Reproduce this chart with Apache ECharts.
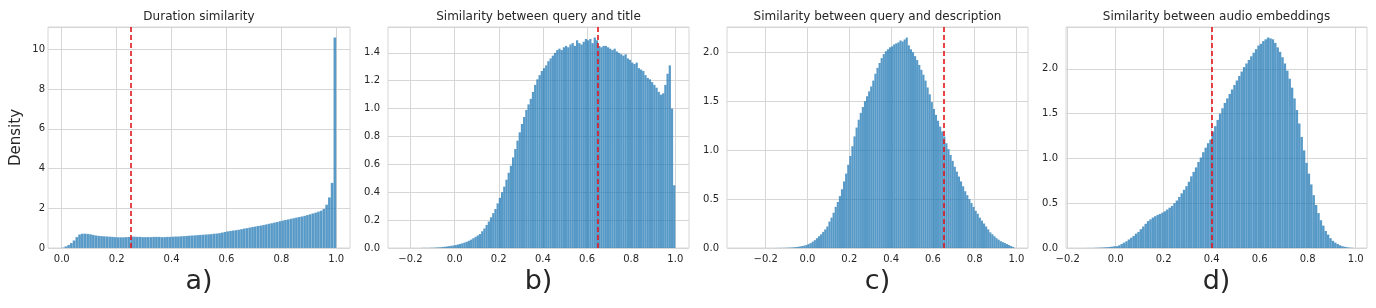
<!DOCTYPE html>
<html>
<head>
<meta charset="utf-8">
<script src="https://cdn.jsdelivr.net/npm/echarts@6/dist/echarts.min.js"></script>
<style>
  html, body { margin: 0; padding: 0; background: #fff; }
  #chart { width: 1376px; height: 308px; }
</style>
</head>
<body>
<div id="chart"></div>
<script>
// every histogram uses bins of the same width, starting at its own edge
const binWidth = 0.01

// a) duration similarity, bins from 0.00 to 1.00
const durationStart = 0
const durationDensity = [
  0.02, 0.08, 0.15, 0.25, 0.38, 0.55, 0.68, 0.72, 0.72, 0.71,
  0.69, 0.66, 0.63, 0.61, 0.60, 0.59, 0.58, 0.57, 0.56, 0.55,
  0.54, 0.54, 0.54, 0.55, 0.56, 0.57, 0.57, 0.56, 0.56, 0.55,
  0.55, 0.55, 0.55, 0.56, 0.56, 0.56, 0.55, 0.55, 0.56, 0.56,
  0.57, 0.58, 0.58, 0.59, 0.60, 0.61, 0.62, 0.63, 0.64, 0.65,
  0.66, 0.67, 0.68, 0.69, 0.70, 0.72, 0.73, 0.75, 0.78, 0.81,
  0.84, 0.86, 0.88, 0.90, 0.92, 0.95, 0.98, 1.00, 1.03, 1.06,
  1.08, 1.11, 1.13, 1.16, 1.19, 1.22, 1.25, 1.28, 1.31, 1.35,
  1.38, 1.41, 1.44, 1.47, 1.50, 1.53, 1.56, 1.59, 1.62, 1.66,
  1.70, 1.74, 1.78, 1.83, 1.88, 1.97, 2.18, 2.55, 3.28, 10.6
]

// b) query vs title, bins from -0.24 to 1.00
const titleStart = -0.24
const titleDensity = [
  0, 0, 0, 0, 0, 0, 0, 0, 0,
  0.001, 0.001, 0.001, 0.001,
  0.002, 0.002, 0.003, 0.004, 0.005, 0.007, 0.009, 0.011, 0.013, 0.016, 0.018,
  0.021, 0.025, 0.029, 0.034, 0.039, 0.045, 0.052, 0.06, 0.07, 0.08,
  0.09, 0.10, 0.12, 0.14, 0.165, 0.19, 0.22, 0.25, 0.28, 0.32,
  0.36, 0.40, 0.44, 0.49, 0.54, 0.59, 0.65, 0.71, 0.77, 0.83,
  0.89, 0.94, 0.99, 1.03, 1.07, 1.12, 1.17, 1.21, 1.24, 1.27,
  1.29, 1.31, 1.34, 1.36, 1.38, 1.40, 1.42, 1.43, 1.42, 1.44,
  1.45, 1.44, 1.46, 1.47, 1.45, 1.49, 1.47, 1.46, 1.48, 1.50,
  1.49, 1.50, 1.47, 1.51, 1.49, 1.45, 1.44, 1.45, 1.45, 1.44,
  1.43, 1.42, 1.43, 1.41, 1.40, 1.39, 1.38, 1.39, 1.36, 1.35,
  1.33, 1.32, 1.33, 1.29, 1.28, 1.27, 1.24, 1.22, 1.21, 1.19,
  1.17, 1.15, 1.12, 1.10, 1.11, 1.17, 1.25, 1.31, 1.00, 0.45
]

// c) query vs description, bins from -0.32 to 0.99
const descStart = -0.32
const descDensity = [
  0, 0, 0, 0, 0, 0, 0, 0, 0, 0, 0, 0, 0, 0, 0, 0, 0,
  0.001, 0.001, 0.001, 0.002, 0.002, 0.003,
  0.004, 0.005, 0.007, 0.009, 0.012, 0.016, 0.02, 0.025, 0.03,
  0.04, 0.05, 0.065, 0.08, 0.10, 0.12, 0.14, 0.165, 0.19, 0.22,
  0.27, 0.31, 0.36, 0.42, 0.47, 0.53, 0.60, 0.68, 0.76, 0.85,
  0.94, 1.04, 1.14, 1.23, 1.31, 1.38, 1.44, 1.50, 1.55, 1.60,
  1.65, 1.71, 1.78, 1.84, 1.89, 1.94, 1.98, 2.01, 2.03, 2.05,
  2.06, 2.08, 2.09, 2.10, 2.12, 2.11, 2.13, 2.15, 2.07, 2.03,
  2.00, 1.96, 1.92, 1.87, 1.82, 1.77, 1.71, 1.64, 1.57, 1.49,
  1.42, 1.36, 1.30, 1.24, 1.19, 1.14, 1.07, 1.01, 0.95, 0.89,
  0.83, 0.78, 0.73, 0.68, 0.63, 0.58, 0.54, 0.50, 0.46, 0.42,
  0.38, 0.35, 0.31, 0.28, 0.25, 0.22, 0.19, 0.16, 0.14, 0.12,
  0.10, 0.085, 0.07, 0.06, 0.05, 0.04, 0.03, 0.02, 0.01
]

// d) audio embeddings, bins from -0.15 to 0.99
const audioStart = -0.15
const audioDensity = [
  0, 0, 0, 0.001, 0.001, 0.001, 0.002,
  0.003, 0.004, 0.005, 0.007, 0.009, 0.012, 0.015, 0.02,
  0.02, 0.03, 0.045, 0.06, 0.075, 0.095, 0.115, 0.135, 0.16, 0.18,
  0.21, 0.24, 0.27, 0.30, 0.32, 0.34, 0.355, 0.37, 0.38, 0.395,
  0.41, 0.43, 0.45, 0.47, 0.50, 0.53, 0.57, 0.61, 0.65, 0.69,
  0.74, 0.80, 0.85, 0.90, 0.96, 1.01, 1.07, 1.12, 1.17, 1.21,
  1.30, 1.36, 1.43, 1.50, 1.56, 1.62, 1.67, 1.72, 1.77, 1.82,
  1.87, 1.92, 1.97, 2.02, 2.06, 2.10, 2.14, 2.18, 2.22, 2.26,
  2.28, 2.31, 2.33, 2.35, 2.34, 2.33, 2.29, 2.24, 2.19, 2.13,
  2.06, 1.98, 1.89, 1.79, 1.67, 1.54, 1.39, 1.24, 1.09, 0.95,
  0.83, 0.71, 0.59, 0.48, 0.39, 0.31, 0.25, 0.19, 0.15, 0.11,
  0.08, 0.06, 0.045, 0.03, 0.02, 0.013, 0.008, 0.004, 0.002
]

const panelTitles = [
  'Duration similarity',
  'Similarity between query and title',
  'Similarity between query and description',
  'Similarity between audio embeddings'
]
const panelLetters = ['a)', 'b)', 'c)', 'd)']
const thresholds = [0.25, 0.65, 0.65, 0.40]
const xTicksDuration = [0, 0.2, 0.4, 0.6, 0.8, 1.0]
const xTicksSimilarity = [-0.2, 0, 0.2, 0.4, 0.6, 0.8, 1.0]
const yIntervals = [2, 0.2, 0.5, 0.5]

const panels = [
  { start: durationStart, values: durationDensity, xTicks: xTicksDuration, yDigits: 0 },
  { start: titleStart, values: titleDensity, xTicks: xTicksSimilarity, yDigits: 1 },
  { start: descStart, values: descDensity, xTicks: xTicksSimilarity, yDigits: 1 },
  { start: audioStart, values: audioDensity, xTicks: xTicksSimilarity, yDigits: 1 }
]

// grid placement (pixels)
const gridLefts = [48, 388, 727, 1066]
const gridWidths = [302, 301, 301, 301]
const gridTop = 27
const gridHeight = 221
const yLabelMargins = [3, 8, 8, 8]

const textColor = '#262626'
const gridColor = '#d6d6d6'
const barColor = 'rgba(31, 119, 180, 0.75)'
const font = 'DejaVu Sans'

function fmt(v, digits) {
  const s = Math.abs(v).toFixed(digits)
  return v < -1e-9 ? '\u2212' + s : s
}

// wide bins (panel a) show thin light seams between bars, the narrow ones look solid
function makeBinRenderer(seams) {
  return function (params, api) {
    const topLeft = api.coord([api.value(0), api.value(2)])
    const bottomRight = api.coord([api.value(1), 0])
    return {
      type: 'rect',
      shape: {
        x: topLeft[0],
        y: topLeft[1],
        width: bottomRight[0] - topLeft[0],
        height: bottomRight[1] - topLeft[1]
      },
      style: seams
        ? { fill: barColor, stroke: 'rgba(255,255,255,0.35)', lineWidth: 0.3 }
        : { fill: barColor }
    }
  }
}

const grids = []
const xAxes = []
const yAxes = []
const series = []
const graphics = []

panels.forEach((p, i) => {
  const lo = p.start
  const hi = p.start + p.values.length * binWidth
  const pad = (hi - lo) * 0.05
  const yMax = Math.max(...p.values) * 1.05

  grids.push({
    left: gridLefts[i],
    top: gridTop,
    width: gridWidths[i],
    height: gridHeight,
    show: true,
    borderColor: gridColor,
    borderWidth: 1,
    backgroundColor: '#fff'
  })

  xAxes.push({
    gridIndex: i,
    type: 'value',
    min: lo - pad,
    max: hi + pad,
    name: panelLetters[i],
    nameLocation: 'middle',
    nameGap: 18,
    nameTextStyle: { fontFamily: font, fontSize: 27, color: textColor },
    axisLine: { show: false },
    axisTick: { show: false, customValues: p.xTicks },
    axisLabel: {
      customValues: p.xTicks,
      margin: 6,
      fontFamily: font,
      fontSize: 10,
      color: textColor,
      formatter: (v) => fmt(v, 1)
    },
    splitLine: { show: true, lineStyle: { color: gridColor, width: 1 } }
  })

  yAxes.push({
    gridIndex: i,
    type: 'value',
    min: 0,
    max: yMax,
    interval: yIntervals[i],
    name: i === 0 ? 'Density' : '',
    nameLocation: 'middle',
    nameGap: 24,
    nameTextStyle: { fontFamily: font, fontSize: 15, color: textColor },
    axisLine: { show: false },
    axisTick: { show: false },
    axisLabel: {
      margin: yLabelMargins[i],
      fontFamily: font,
      fontSize: 10,
      color: textColor,
      showMaxLabel: false,
      formatter: (v) => fmt(v, p.yDigits)
    },
    splitLine: { show: true, lineStyle: { color: gridColor, width: 1 } }
  })

  series.push({
    type: 'custom',
    xAxisIndex: i,
    yAxisIndex: i,
    renderItem: makeBinRenderer(i === 0),
    encode: { x: [0, 1], y: 2 },
    data: p.values.map((v, k) => [lo + k * binWidth, lo + (k + 1) * binWidth, v]),
    silent: true
  })

  series.push({
    type: 'line',
    xAxisIndex: i,
    yAxisIndex: i,
    data: [],
    z: 5,
    markLine: {
      silent: true,
      symbol: 'none',
      label: { show: false },
      lineStyle: { color: '#e3161b', width: 1.6, type: [5, 3] },
      data: [{ xAxis: thresholds[i] }]
    }
  })

  graphics.push({
    type: 'text',
    x: gridLefts[i] + gridWidths[i] / 2,
    y: 17,
    style: {
      text: panelTitles[i],
      align: 'center',
      verticalAlign: 'middle',
      fontFamily: font,
      fontSize: 12,
      fill: textColor
    }
  })
})

const chart = echarts.init(document.getElementById('chart'), null, { renderer: 'canvas' })
chart.setOption({
  backgroundColor: '#fff',
  animation: false,
  grid: grids,
  xAxis: xAxes,
  yAxis: yAxes,
  series: series,
  graphic: graphics
})
</script>
</body>
</html>
